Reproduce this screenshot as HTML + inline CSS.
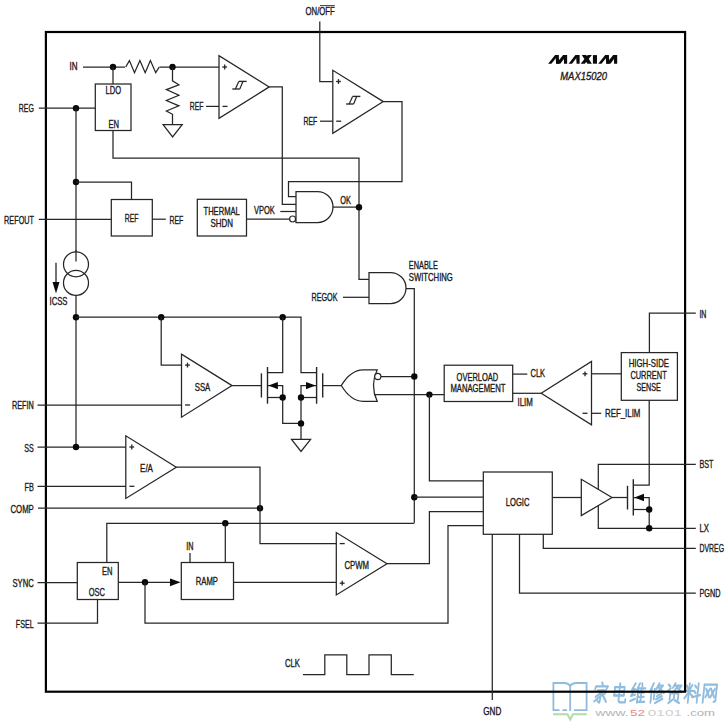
<!DOCTYPE html>
<html><head><meta charset="utf-8"><title>MAX15020 Block Diagram</title>
<style>html,body{margin:0;padding:0;background:#fff;}svg{display:block;}</style>
</head><body>
<svg width="725" height="724" viewBox="0 0 725 724" font-family="Liberation Sans, sans-serif">
<rect width="725" height="724" fill="#fff"/>
<g id="wm">
<path d="M559.5 710.2 L553.4 710.2 L553.4 683 L565 683 Q569 683.6 570.2 686.2 Q571.4 683.6 575.4 683 L586.6 683 L586.6 710.2 L574 710.2 M567 710.2 L562.5 710.2 M570.2 686.2 L570.2 711" fill="none" stroke="#8fbbdc" stroke-width="1.8"/>
<path d="M553 714.2 L567.5 714.2 L570.2 719.5 L572.9 714.2 L586.8 714.2" fill="none" stroke="#b4dba6" stroke-width="2"/>
<g transform="translate(592.6 682.5) scale(0.165 0.21) skewX(-8) translate(8 0)" fill="none" stroke="#84b5da" stroke-width="11" stroke-linecap="round" stroke-linejoin="round" opacity="0.9">
<path d="M50 0 L56 12"/>
<path d="M12 32 L15 18 L88 18 L80 32"/>
<path d="M28 38 L72 38"/>
<path d="M56 38 C44 55 52 80 46 96 L34 88"/>
<path d="M48 50 L20 68"/>
<path d="M50 63 L14 90"/>
<path d="M58 55 L86 92"/>
<path d="M82 44 L62 62"/>
</g>
<g transform="translate(611 682.5) scale(0.165 0.21) skewX(-8) translate(8 0)" fill="none" stroke="#84b5da" stroke-width="11" stroke-linecap="round" stroke-linejoin="round" opacity="0.9">
<path d="M20 22 L20 62"/>
<path d="M20 22 L78 22 L78 62"/>
<path d="M20 42 L78 42"/>
<path d="M20 62 L78 62"/>
<path d="M49 4 L49 84 Q50 95 68 95 L90 95 L90 80"/>
</g>
<g transform="translate(629.5 682.5) scale(0.165 0.21) skewX(-8) translate(8 0)" fill="none" stroke="#84b5da" stroke-width="11" stroke-linecap="round" stroke-linejoin="round" opacity="0.9">
<path d="M30 4 L12 34 L30 32 L10 64 L34 58"/>
<path d="M8 88 L36 78"/>
<path d="M56 4 L42 36"/>
<path d="M50 26 L50 96"/>
<path d="M70 4 L73 18"/>
<path d="M50 28 L92 28"/>
<path d="M50 48 L88 48"/>
<path d="M50 68 L88 68"/>
<path d="M50 92 L95 92"/>
<path d="M70 28 L70 92"/>
</g>
<g transform="translate(648 682.5) scale(0.165 0.21) skewX(-8) translate(8 0)" fill="none" stroke="#84b5da" stroke-width="11" stroke-linecap="round" stroke-linejoin="round" opacity="0.9">
<path d="M28 4 L8 46"/>
<path d="M20 30 L20 96"/>
<path d="M38 30 L38 80"/>
<path d="M62 4 L48 30"/>
<path d="M58 15 L85 15 L55 50"/>
<path d="M62 25 L95 50"/>
<path d="M80 52 L55 65"/>
<path d="M85 65 L52 80"/>
<path d="M90 78 L48 98"/>
</g>
<g transform="translate(666 682.5) scale(0.165 0.21) skewX(-8) translate(8 0)" fill="none" stroke="#84b5da" stroke-width="11" stroke-linecap="round" stroke-linejoin="round" opacity="0.9">
<path d="M10 10 L22 20"/>
<path d="M8 40 L25 28"/>
<path d="M50 4 L38 25"/>
<path d="M45 15 L88 15 L80 25"/>
<path d="M65 18 L45 45"/>
<path d="M65 25 L90 45"/>
<path d="M25 52 L25 82"/>
<path d="M25 52 L75 52 L75 82"/>
<path d="M50 60 L50 78 L20 98"/>
<path d="M58 85 L85 98"/>
</g>
<g transform="translate(684 682.5) scale(0.165 0.21) skewX(-8) translate(8 0)" fill="none" stroke="#84b5da" stroke-width="11" stroke-linecap="round" stroke-linejoin="round" opacity="0.9">
<path d="M12 15 L22 30"/>
<path d="M45 12 L35 30"/>
<path d="M5 40 L52 40"/>
<path d="M28 4 L28 96"/>
<path d="M28 45 L5 75"/>
<path d="M28 45 L50 65"/>
<path d="M62 15 L72 25"/>
<path d="M58 40 L70 50"/>
<path d="M52 70 L98 60"/>
<path d="M82 4 L82 96"/>
</g>
<g transform="translate(701.5 682.5) scale(0.165 0.21) skewX(-8) translate(8 0)" fill="none" stroke="#84b5da" stroke-width="11" stroke-linecap="round" stroke-linejoin="round" opacity="0.9">
<path d="M12 10 L12 96"/>
<path d="M12 10 L88 10 L88 88 L78 92"/>
<path d="M25 30 L48 70"/>
<path d="M48 30 L25 70"/>
<path d="M55 30 L78 70"/>
<path d="M78 30 L55 70"/>
</g>
<text x="595.5" y="715.7" font-size="9" textLength="33" lengthAdjust="spacingAndGlyphs" fill="#b4b4b4">www.</text>
<text x="630" y="715.7" font-size="9" textLength="15" lengthAdjust="spacingAndGlyphs" fill="#e48b8b">52</text>
<text x="647.8" y="715.7" font-size="9" textLength="34.2" lengthAdjust="spacingAndGlyphs" fill="#cfcfcf">0101</text>
<text x="686.5" y="715.7" font-size="9" textLength="28.5" lengthAdjust="spacingAndGlyphs" fill="#b0b0b0">.com</text>
</g>
<rect x="45.9" y="32" width="639.2" height="659.7" fill="none" stroke="#000" stroke-width="2.2"/>
<text x="69.5" y="70" font-size="10.5" textLength="8" lengthAdjust="spacingAndGlyphs" fill="#1a1a1a" stroke="#1a1a1a" stroke-width="0.35" >IN</text>
<path d="M83 67 L125 67" fill="none" stroke="#262626" stroke-width="1.25" />
<path d="M125.7 67 L129.4 60.6 L134.5 72.7 L139.9 60.6 L145.2 72.7 L150.4 60.6 L155.7 72.7 L159.2 67" fill="none" stroke="#262626" stroke-width="1.25" stroke-linejoin="miter"/>
<path d="M159.5 67 L219 67" fill="none" stroke="#262626" stroke-width="1.25" />
<circle cx="113" cy="67" r="3.2" fill="#0a0a0a"/>
<circle cx="172.5" cy="67" r="3.2" fill="#0a0a0a"/>
<path d="M113 67 L113 84" fill="none" stroke="#262626" stroke-width="1.25" />
<rect x="95.3" y="84" width="35.7" height="46.5" fill="none" stroke="#262626" stroke-width="1.25"/>
<text x="105.5" y="93.8" font-size="10.5" textLength="15.5" lengthAdjust="spacingAndGlyphs" fill="#1a1a1a" stroke="#1a1a1a" stroke-width="0.35" >LDO</text>
<text x="108.5" y="128" font-size="10.5" textLength="10.5" lengthAdjust="spacingAndGlyphs" fill="#1a1a1a" stroke="#1a1a1a" stroke-width="0.35" >EN</text>
<path d="M172.5 67 L172.5 80.8 L178.9 84.8 L166.4 89.6 L178.9 95.3 L166.4 100.5 L178.9 105.8 L166.4 111 L172.5 114.3 L172.5 124.6" fill="none" stroke="#262626" stroke-width="1.25" stroke-linejoin="miter"/>
<path d="M163.1 124.7 L182.2 124.7 L172.6 137 Z" fill="none" stroke="#262626" stroke-width="1.25" stroke-linejoin="miter"/>
<text x="18.8" y="111.8" font-size="10.5" textLength="15" lengthAdjust="spacingAndGlyphs" fill="#1a1a1a" stroke="#1a1a1a" stroke-width="0.35" >REG</text>
<path d="M38.8 108.2 L95.3 108.2" fill="none" stroke="#262626" stroke-width="1.25" />
<circle cx="76" cy="108.2" r="3.2" fill="#0a0a0a"/>
<path d="M76 108.2 L76 252" fill="none" stroke="#262626" stroke-width="1.25" />
<path d="M113 130.5 L113 158 L359 158 L359 279.3 L369 279.3" fill="none" stroke="#262626" stroke-width="1.25" />
<path d="M219 55.6 L219 118.3 L269.2 86.9 Z" fill="none" stroke="#262626" stroke-width="1.25" stroke-linejoin="miter"/>
<path d="M222.3 67 L227.1 67" fill="none" stroke="#262626" stroke-width="1.3" />
<path d="M224.7 64.6 L224.7 69.4" fill="none" stroke="#262626" stroke-width="1.3" />
<path d="M222.5 106.4 L227.5 106.4" fill="none" stroke="#262626" stroke-width="1.3" />
<text x="189.8" y="110" font-size="10.5" textLength="13.7" lengthAdjust="spacingAndGlyphs" fill="#1a1a1a" stroke="#1a1a1a" stroke-width="0.35" >REF</text>
<path d="M206 106.4 L219 106.4" fill="none" stroke="#262626" stroke-width="1.25" />
<path d="M232.3 89 L239.8 89" fill="none" stroke="#262626" stroke-width="1.35" />
<path d="M238.8 81.4 L246.6 81.4" fill="none" stroke="#262626" stroke-width="1.35" />
<path d="M235.4 89 L238.8 81.4" fill="none" stroke="#262626" stroke-width="1.2" />
<path d="M239.8 89 L242.9 81.4" fill="none" stroke="#262626" stroke-width="1.2" />
<path d="M269.2 86.9 L282.3 86.9 L282.3 204.3 L296 204.3" fill="none" stroke="#262626" stroke-width="1.25" />
<text x="305.5" y="15" font-size="10.5" textLength="29.3" lengthAdjust="spacingAndGlyphs" fill="#1a1a1a" stroke="#1a1a1a" stroke-width="0.35" >ON/OFF</text>
<path d="M320 5.6 L334.8 5.6" fill="none" stroke="#262626" stroke-width="0.9" />
<path d="M319.8 21.5 L319.8 81.5 L332.8 81.5" fill="none" stroke="#262626" stroke-width="1.25" />
<path d="M332.8 70.3 L332.8 133.4 L383.3 101.6 Z" fill="none" stroke="#262626" stroke-width="1.25" stroke-linejoin="miter"/>
<path d="M336.1 81.5 L340.9 81.5" fill="none" stroke="#262626" stroke-width="1.3" />
<path d="M338.5 79.1 L338.5 83.9" fill="none" stroke="#262626" stroke-width="1.3" />
<path d="M336.2 121.2 L341.2 121.2" fill="none" stroke="#262626" stroke-width="1.3" />
<text x="303.5" y="125" font-size="10.5" textLength="13.8" lengthAdjust="spacingAndGlyphs" fill="#1a1a1a" stroke="#1a1a1a" stroke-width="0.35" >REF</text>
<path d="M320 121.2 L332.8 121.2" fill="none" stroke="#262626" stroke-width="1.25" />
<path d="M346.1 104 L353.6 104" fill="none" stroke="#262626" stroke-width="1.35" />
<path d="M352.6 96.4 L360.4 96.4" fill="none" stroke="#262626" stroke-width="1.35" />
<path d="M349.2 104 L352.6 96.4" fill="none" stroke="#262626" stroke-width="1.2" />
<path d="M353.6 104 L356.7 96.4" fill="none" stroke="#262626" stroke-width="1.2" />
<path d="M383.3 101.6 L402 101.6 L402 181.6 L288.5 181.6 L288.5 196.5 L296 196.5" fill="none" stroke="#262626" stroke-width="1.25" />
<polygon points="548.10,63.70 551.40,63.70 558.40,55.10 555.10,55.10" fill="#0a0a0a"/>
<polygon points="555.50,55.10 558.80,55.10 559.10,63.70 556.10,63.70" fill="#0a0a0a"/>
<polygon points="556.10,63.70 560.30,63.70 567.00,55.10 563.10,55.10" fill="#0a0a0a"/>
<polygon points="563.80,55.10 567.10,55.10 567.10,63.70 564.00,63.70" fill="#0a0a0a"/>
<polygon points="568.60,63.70 572.00,63.70 578.80,55.10 575.40,55.10" fill="#0a0a0a"/>
<polygon points="576.00,55.10 579.60,55.10 579.60,63.70 576.60,63.70" fill="#0a0a0a"/>
<polygon points="580.60,63.70 584.80,63.70 591.90,55.10 587.80,55.10" fill="#0a0a0a"/>
<polygon points="581.80,55.10 586.20,55.10 591.90,63.70 587.40,63.70" fill="#0a0a0a"/>
<polygon points="592.90,55.10 597.00,55.10 597.00,63.70 592.90,63.70" fill="#0a0a0a"/>
<polygon points="598.20,63.70 601.50,63.70 608.50,55.10 605.20,55.10" fill="#0a0a0a"/>
<polygon points="605.60,55.10 608.90,55.10 609.20,63.70 606.20,63.70" fill="#0a0a0a"/>
<polygon points="606.20,63.70 610.40,63.70 617.10,55.10 613.20,55.10" fill="#0a0a0a"/>
<polygon points="613.90,55.10 617.20,55.10 617.20,63.70 614.10,63.70" fill="#0a0a0a"/>
<text x="560.2" y="79.8" font-size="11.5" textLength="46.8" lengthAdjust="spacingAndGlyphs" fill="#1a1a1a" stroke="#1a1a1a" stroke-width="0.35" font-style="italic">MAX15020</text>
<circle cx="76" cy="182" r="3.2" fill="#0a0a0a"/>
<path d="M76 182 L131.5 182 L131.5 199.5" fill="none" stroke="#262626" stroke-width="1.25" />
<rect x="111.3" y="199.5" width="41" height="36.5" fill="none" stroke="#262626" stroke-width="1.25"/>
<text x="124.8" y="221.8" font-size="10.5" textLength="13.7" lengthAdjust="spacingAndGlyphs" fill="#1a1a1a" stroke="#1a1a1a" stroke-width="0.35" >REF</text>
<text x="4.1" y="223.6" font-size="10.5" textLength="29.9" lengthAdjust="spacingAndGlyphs" fill="#1a1a1a" stroke="#1a1a1a" stroke-width="0.35" >REFOUT</text>
<path d="M38.8 219.4 L111.3 219.4" fill="none" stroke="#262626" stroke-width="1.25" />
<path d="M152.3 219.2 L165.8 219.2" fill="none" stroke="#262626" stroke-width="1.25" />
<text x="169.5" y="223.5" font-size="10.5" textLength="13.8" lengthAdjust="spacingAndGlyphs" fill="#1a1a1a" stroke="#1a1a1a" stroke-width="0.35" >REF</text>
<rect x="197.3" y="199.3" width="49.2" height="36.7" fill="none" stroke="#262626" stroke-width="1.25"/>
<text x="203.5" y="215" font-size="10.5" textLength="36.3" lengthAdjust="spacingAndGlyphs" fill="#1a1a1a" stroke="#1a1a1a" stroke-width="0.35" >THERMAL</text>
<text x="210.5" y="227" font-size="10.5" textLength="22.5" lengthAdjust="spacingAndGlyphs" fill="#1a1a1a" stroke="#1a1a1a" stroke-width="0.35" >SHDN</text>
<path d="M246.5 219 L289.5 219" fill="none" stroke="#262626" stroke-width="1.25" />
<circle cx="292.6" cy="219" r="3" fill="#fff" stroke="#262626" stroke-width="1.2"/>
<text x="254" y="214" font-size="10.5" textLength="20.8" lengthAdjust="spacingAndGlyphs" fill="#1a1a1a" stroke="#1a1a1a" stroke-width="0.35" >VPOK</text>
<path d="M280.3 211.5 L296 211.5" fill="none" stroke="#262626" stroke-width="1.25" />
<path d="M296 191.5 L317.5 191.5 A15.5 15.5 0 0 1 317.5 222.5 L296 222.5 Z" fill="#fff" stroke="#262626" stroke-width="1.25"/>
<text x="340.3" y="204" font-size="10.5" textLength="10.7" lengthAdjust="spacingAndGlyphs" fill="#1a1a1a" stroke="#1a1a1a" stroke-width="0.35" >OK</text>
<path d="M333 207.1 L359 207.1" fill="none" stroke="#262626" stroke-width="1.25" />
<circle cx="359" cy="207.2" r="3.2" fill="#0a0a0a"/>
<path d="M76 250 L76 261.5" fill="none" stroke="#262626" stroke-width="1.25" />
<circle cx="76" cy="264.3" r="12.5" fill="none" stroke="#262626" stroke-width="1.25"/>
<circle cx="76" cy="282.9" r="12.5" fill="none" stroke="#262626" stroke-width="1.25"/>
<path d="M76 295.4 L76 447" fill="none" stroke="#262626" stroke-width="1.25" />
<path d="M56 262.8 L56 284" fill="none" stroke="#262626" stroke-width="1.3" />
<polygon points="52.5,282 59.5,282 56,293.5" fill="#0a0a0a"/>
<text x="49.5" y="304.8" font-size="10.5" textLength="18" lengthAdjust="spacingAndGlyphs" fill="#1a1a1a" stroke="#1a1a1a" stroke-width="0.35" >ICSS</text>
<circle cx="76" cy="317.2" r="3.2" fill="#0a0a0a"/>
<path d="M76 317.2 L301 317.2 L301 372.6 L316.5 372.6" fill="none" stroke="#262626" stroke-width="1.25" />
<circle cx="161.2" cy="317.2" r="3.2" fill="#0a0a0a"/>
<circle cx="282.7" cy="317.2" r="3.2" fill="#0a0a0a"/>
<path d="M161.2 317.2 L161.2 365.1 L181.5 365.1" fill="none" stroke="#262626" stroke-width="1.25" />
<text x="311.5" y="301" font-size="10.5" textLength="26" lengthAdjust="spacingAndGlyphs" fill="#1a1a1a" stroke="#1a1a1a" stroke-width="0.35" >REGOK</text>
<path d="M343 297.3 L369 297.3" fill="none" stroke="#262626" stroke-width="1.25" />
<path d="M369 272.5 L390.5 272.5 A15.5 15.5 0 0 1 390.5 303.5 L369 303.5 Z" fill="#fff" stroke="#262626" stroke-width="1.25"/>
<path d="M406 288.5 L414.3 288.5 L414.3 522.8" fill="none" stroke="#262626" stroke-width="1.25" />
<text x="408.8" y="268.5" font-size="10.5" textLength="29" lengthAdjust="spacingAndGlyphs" fill="#1a1a1a" stroke="#1a1a1a" stroke-width="0.35" >ENABLE</text>
<text x="408.8" y="281" font-size="10.5" textLength="44" lengthAdjust="spacingAndGlyphs" fill="#1a1a1a" stroke="#1a1a1a" stroke-width="0.35" >SWITCHING</text>
<path d="M181.5 354.2 L181.5 417.2 L232 385.6 Z" fill="none" stroke="#262626" stroke-width="1.25" stroke-linejoin="miter"/>
<path d="M185.1 365.1 L189.9 365.1" fill="none" stroke="#262626" stroke-width="1.3" />
<path d="M187.5 362.7 L187.5 367.5" fill="none" stroke="#262626" stroke-width="1.3" />
<path d="M185.1 405 L190.1 405" fill="none" stroke="#262626" stroke-width="1.3" />
<text x="194.7" y="391" font-size="10.5" textLength="15.6" lengthAdjust="spacingAndGlyphs" fill="#1a1a1a" stroke="#1a1a1a" stroke-width="0.35" >SSA</text>
<text x="12" y="409" font-size="10.5" textLength="21.8" lengthAdjust="spacingAndGlyphs" fill="#1a1a1a" stroke="#1a1a1a" stroke-width="0.35" >REFIN</text>
<path d="M37.5 405 L181.5 405" fill="none" stroke="#262626" stroke-width="1.25" />
<path d="M232 385.6 L261.4 385.6" fill="none" stroke="#262626" stroke-width="1.25" />
<path d="M261.4 373.3 L261.4 397.5" fill="none" stroke="#262626" stroke-width="1.4" />
<path d="M267.5 367 L267.5 403.7" fill="none" stroke="#262626" stroke-width="1.4" />
<path d="M267.5 372.6 L282.7 372.6 L282.7 317.2" fill="none" stroke="#262626" stroke-width="1.25" />
<path d="M267.5 385.6 L282.7 385.6 L282.7 423.4 L301 423.4" fill="none" stroke="#262626" stroke-width="1.25" />
<polygon points="268.4,385.6 277.9,382 277.9,389.2" fill="#0a0a0a"/>
<path d="M267.5 397.5 L282.7 397.5" fill="none" stroke="#262626" stroke-width="1.25" />
<circle cx="282.7" cy="397.5" r="3.2" fill="#0a0a0a"/>
<path d="M322.7 373.3 L322.7 397.5" fill="none" stroke="#262626" stroke-width="1.4" />
<path d="M316.6 367 L316.6 403.7" fill="none" stroke="#262626" stroke-width="1.4" />
<path d="M316.6 385.6 L301 385.6 L301 439.3" fill="none" stroke="#262626" stroke-width="1.25" />
<polygon points="315.6,385.6 306,382 306,389.2" fill="#0a0a0a"/>
<path d="M316.6 397.5 L301 397.5" fill="none" stroke="#262626" stroke-width="1.25" />
<circle cx="301" cy="397.5" r="3.2" fill="#0a0a0a"/>
<circle cx="301" cy="423.4" r="3.2" fill="#0a0a0a"/>
<path d="M291.5 439.3 L310.6 439.3 L301 451.5 Z" fill="none" stroke="#262626" stroke-width="1.25" stroke-linejoin="miter"/>
<path d="M322.7 385.6 L341.3 385.6" fill="none" stroke="#262626" stroke-width="1.25" />
<path d="M341.3 385.5 C347 376 354 370 363 369.8 L377.2 369.8 C372.3 380 372.3 391 377.2 401.3 L363 401.3 C354 401 347 395 341.3 385.5 Z" fill="#fff" stroke="#262626" stroke-width="1.25"/>
<circle cx="377.8" cy="376.5" r="3.1" fill="#fff" stroke="#262626" stroke-width="1.2"/>
<path d="M381 376.5 L414.3 376.5" fill="none" stroke="#262626" stroke-width="1.25" />
<circle cx="414.3" cy="376.5" r="3.2" fill="#0a0a0a"/>
<path d="M374.7 394.6 L444.2 394.6" fill="none" stroke="#262626" stroke-width="1.25" />
<circle cx="429.4" cy="394.6" r="3.2" fill="#0a0a0a"/>
<path d="M429.4 394.6 L429.4 480.8 L483.3 480.8" fill="none" stroke="#262626" stroke-width="1.25" />
<rect x="444.2" y="365.2" width="68.5" height="36.3" fill="none" stroke="#262626" stroke-width="1.25"/>
<text x="456.6" y="380.5" font-size="10.5" textLength="41.7" lengthAdjust="spacingAndGlyphs" fill="#1a1a1a" stroke="#1a1a1a" stroke-width="0.35" >OVERLOAD</text>
<text x="450.4" y="392" font-size="10.5" textLength="55.1" lengthAdjust="spacingAndGlyphs" fill="#1a1a1a" stroke="#1a1a1a" stroke-width="0.35" >MANAGEMENT</text>
<path d="M512.7 374.1 L527.3 374.1" fill="none" stroke="#262626" stroke-width="1.25" />
<text x="530.5" y="377.4" font-size="10.5" textLength="14.6" lengthAdjust="spacingAndGlyphs" fill="#1a1a1a" stroke="#1a1a1a" stroke-width="0.35" >CLK</text>
<path d="M512.7 393.3 L541.2 393.3" fill="none" stroke="#262626" stroke-width="1.25" />
<text x="517.5" y="405.5" font-size="10.5" textLength="15.3" lengthAdjust="spacingAndGlyphs" fill="#1a1a1a" stroke="#1a1a1a" stroke-width="0.35" >ILIM</text>
<path d="M591.5 361.5 L591.5 424.8 L541.2 393.3 Z" fill="none" stroke="#262626" stroke-width="1.25" stroke-linejoin="miter"/>
<path d="M582.6 373.8 L587.4 373.8" fill="none" stroke="#262626" stroke-width="1.3" />
<path d="M585 371.4 L585 376.2" fill="none" stroke="#262626" stroke-width="1.3" />
<path d="M582.5 413.3 L587.5 413.3" fill="none" stroke="#262626" stroke-width="1.3" />
<path d="M591.5 373.8 L621.3 373.8" fill="none" stroke="#262626" stroke-width="1.25" />
<path d="M591.5 413.3 L601.2 413.3" fill="none" stroke="#262626" stroke-width="1.25" />
<text x="605" y="416.9" font-size="10.5" textLength="35.4" lengthAdjust="spacingAndGlyphs" fill="#1a1a1a" stroke="#1a1a1a" stroke-width="0.35" >REF_ILIM</text>
<rect x="621.3" y="352.6" width="56.1" height="47.7" fill="none" stroke="#262626" stroke-width="1.25"/>
<text x="628.7" y="367.3" font-size="10.5" textLength="40.3" lengthAdjust="spacingAndGlyphs" fill="#1a1a1a" stroke="#1a1a1a" stroke-width="0.35" >HIGH-SIDE</text>
<text x="630.4" y="379.3" font-size="10.5" textLength="36.3" lengthAdjust="spacingAndGlyphs" fill="#1a1a1a" stroke="#1a1a1a" stroke-width="0.35" >CURRENT</text>
<text x="636.5" y="390.6" font-size="10.5" textLength="24.3" lengthAdjust="spacingAndGlyphs" fill="#1a1a1a" stroke="#1a1a1a" stroke-width="0.35" >SENSE</text>
<path d="M695.8 313 L649.4 313 L649.4 352.6" fill="none" stroke="#262626" stroke-width="1.25" />
<text x="699.4" y="317.5" font-size="10.5" textLength="7" lengthAdjust="spacingAndGlyphs" fill="#1a1a1a" stroke="#1a1a1a" stroke-width="0.35" >IN</text>
<path d="M649.2 400.3 L649.2 485 L633.3 485" fill="none" stroke="#262626" stroke-width="1.25" />
<text x="24.3" y="451.5" font-size="10.5" textLength="9.5" lengthAdjust="spacingAndGlyphs" fill="#1a1a1a" stroke="#1a1a1a" stroke-width="0.35" >SS</text>
<path d="M37.5 447 L125.8 447" fill="none" stroke="#262626" stroke-width="1.25" />
<circle cx="76" cy="447" r="3.2" fill="#0a0a0a"/>
<path d="M125.8 435.8 L125.8 498.5 L176.3 467.2 Z" fill="none" stroke="#262626" stroke-width="1.25" stroke-linejoin="miter"/>
<path d="M129.4 447 L134.2 447" fill="none" stroke="#262626" stroke-width="1.3" />
<path d="M131.8 444.6 L131.8 449.4" fill="none" stroke="#262626" stroke-width="1.3" />
<path d="M129.4 486.3 L134.4 486.3" fill="none" stroke="#262626" stroke-width="1.3" />
<text x="140" y="472" font-size="10.5" textLength="13" lengthAdjust="spacingAndGlyphs" fill="#1a1a1a" stroke="#1a1a1a" stroke-width="0.35" >E/A</text>
<text x="24.5" y="490.5" font-size="10.5" textLength="9.3" lengthAdjust="spacingAndGlyphs" fill="#1a1a1a" stroke="#1a1a1a" stroke-width="0.35" >FB</text>
<path d="M37.5 486.3 L125.8 486.3" fill="none" stroke="#262626" stroke-width="1.25" />
<text x="10.5" y="512.5" font-size="10.5" textLength="23.3" lengthAdjust="spacingAndGlyphs" fill="#1a1a1a" stroke="#1a1a1a" stroke-width="0.35" >COMP</text>
<path d="M38 508.2 L260 508.2" fill="none" stroke="#262626" stroke-width="1.25" />
<circle cx="260" cy="508.2" r="3.2" fill="#0a0a0a"/>
<path d="M176.3 467.2 L260 467.2 L260 543.6 L336.3 543.6" fill="none" stroke="#262626" stroke-width="1.25" />
<path d="M414.3 523.3 L106.8 523.3 L106.8 562.5" fill="none" stroke="#262626" stroke-width="1.25" />
<circle cx="225.3" cy="523.3" r="3.2" fill="#0a0a0a"/>
<path d="M225.3 523.3 L225.3 562.5" fill="none" stroke="#262626" stroke-width="1.25" />
<circle cx="414.3" cy="497.2" r="3.2" fill="#0a0a0a"/>
<path d="M414.3 497.2 L483.3 497.2" fill="none" stroke="#262626" stroke-width="1.25" />
<rect x="77.3" y="562.5" width="41" height="37" fill="none" stroke="#262626" stroke-width="1.25"/>
<text x="102" y="575" font-size="10.5" textLength="10.5" lengthAdjust="spacingAndGlyphs" fill="#1a1a1a" stroke="#1a1a1a" stroke-width="0.35" >EN</text>
<text x="88.8" y="596.3" font-size="10.5" textLength="16.2" lengthAdjust="spacingAndGlyphs" fill="#1a1a1a" stroke="#1a1a1a" stroke-width="0.35" >OSC</text>
<text x="12.5" y="586.8" font-size="10.5" textLength="21.3" lengthAdjust="spacingAndGlyphs" fill="#1a1a1a" stroke="#1a1a1a" stroke-width="0.35" >SYNC</text>
<path d="M37.5 582.7 L77.3 582.7" fill="none" stroke="#262626" stroke-width="1.25" />
<text x="15.8" y="627.5" font-size="10.5" textLength="18" lengthAdjust="spacingAndGlyphs" fill="#1a1a1a" stroke="#1a1a1a" stroke-width="0.35" >FSEL</text>
<path d="M37.5 623 L97.5 623 L97.5 599.5" fill="none" stroke="#262626" stroke-width="1.25" />
<path d="M118.3 582.3 L172 582.3" fill="none" stroke="#262626" stroke-width="1.25" />
<circle cx="145" cy="582.3" r="3.2" fill="#0a0a0a"/>
<polygon points="170,578.4 170,586.2 180.6,582.3" fill="#0a0a0a"/>
<path d="M145 582.3 L145 623 L448 623 L448 525.6 L483.3 525.6" fill="none" stroke="#262626" stroke-width="1.25" />
<rect x="181.3" y="562.5" width="52.2" height="37" fill="none" stroke="#262626" stroke-width="1.25"/>
<text x="195.8" y="585" font-size="10.5" textLength="22.2" lengthAdjust="spacingAndGlyphs" fill="#1a1a1a" stroke="#1a1a1a" stroke-width="0.35" >RAMP</text>
<text x="186.3" y="550" font-size="10.5" textLength="7.2" lengthAdjust="spacingAndGlyphs" fill="#1a1a1a" stroke="#1a1a1a" stroke-width="0.35" >IN</text>
<path d="M190 553 L190 562.5" fill="none" stroke="#262626" stroke-width="1.25" />
<path d="M233.5 582.3 L336.3 582.3" fill="none" stroke="#262626" stroke-width="1.25" />
<path d="M336.3 532.5 L336.3 595 L387 563.7 Z" fill="none" stroke="#262626" stroke-width="1.25" stroke-linejoin="miter"/>
<path d="M339.7 543.6 L344.7 543.6" fill="none" stroke="#262626" stroke-width="1.3" />
<path d="M339.8 583.2 L344.6 583.2" fill="none" stroke="#262626" stroke-width="1.3" />
<path d="M342.2 580.8 L342.2 585.6" fill="none" stroke="#262626" stroke-width="1.3" />
<text x="344.5" y="568.8" font-size="10.5" textLength="24.5" lengthAdjust="spacingAndGlyphs" fill="#1a1a1a" stroke="#1a1a1a" stroke-width="0.35" >CPWM</text>
<path d="M387 563.7 L429.4 563.7 L429.4 511.6 L483.3 511.6" fill="none" stroke="#262626" stroke-width="1.25" />
<rect x="483.3" y="472" width="69" height="62.3" fill="none" stroke="#262626" stroke-width="1.25"/>
<text x="505.8" y="505.8" font-size="10.5" textLength="23.7" lengthAdjust="spacingAndGlyphs" fill="#1a1a1a" stroke="#1a1a1a" stroke-width="0.35" >LOGIC</text>
<path d="M552.3 497.5 L581.3 497.5" fill="none" stroke="#262626" stroke-width="1.25" />
<path d="M492.3 534.3 L492.3 700" fill="none" stroke="#262626" stroke-width="1.25" />
<text x="483.2" y="714.8" font-size="10.5" textLength="18.1" lengthAdjust="spacingAndGlyphs" fill="#1a1a1a" stroke="#1a1a1a" stroke-width="0.35" >GND</text>
<path d="M519.5 534.3 L519.5 593 L695.8 593" fill="none" stroke="#262626" stroke-width="1.25" />
<text x="699.5" y="596.8" font-size="10.5" textLength="21" lengthAdjust="spacingAndGlyphs" fill="#1a1a1a" stroke="#1a1a1a" stroke-width="0.35" >PGND</text>
<path d="M543.3 534.3 L543.3 548.3 L695.8 548.3" fill="none" stroke="#262626" stroke-width="1.25" />
<text x="699.5" y="551.8" font-size="10.5" textLength="24.5" lengthAdjust="spacingAndGlyphs" fill="#1a1a1a" stroke="#1a1a1a" stroke-width="0.35" >DVREG</text>
<path d="M581.3 479.3 L581.3 515.6 L612 497.5 Z" fill="none" stroke="#262626" stroke-width="1.25" stroke-linejoin="miter"/>
<path d="M598.3 489.4 L598.3 464.3 L695.8 464.3" fill="none" stroke="#262626" stroke-width="1.25" />
<text x="699.5" y="467.6" font-size="10.5" textLength="14" lengthAdjust="spacingAndGlyphs" fill="#1a1a1a" stroke="#1a1a1a" stroke-width="0.35" >BST</text>
<path d="M598.3 505.6 L598.3 528.3 L695.8 528.3" fill="none" stroke="#262626" stroke-width="1.25" />
<text x="699.5" y="531.6" font-size="10.5" textLength="9.5" lengthAdjust="spacingAndGlyphs" fill="#1a1a1a" stroke="#1a1a1a" stroke-width="0.35" >LX</text>
<path d="M612 497.5 L627.5 497.5" fill="none" stroke="#262626" stroke-width="1.25" />
<path d="M627.5 485.8 L627.5 509.5" fill="none" stroke="#262626" stroke-width="1.4" />
<path d="M633.3 479.3 L633.3 515.6" fill="none" stroke="#262626" stroke-width="1.4" />
<path d="M633.3 497.5 L649.2 497.5 L649.2 528.3" fill="none" stroke="#262626" stroke-width="1.25" />
<polygon points="634.3,497.5 644,493.8 644,501.2" fill="#0a0a0a"/>
<path d="M633.3 509.5 L649.2 509.5" fill="none" stroke="#262626" stroke-width="1.25" />
<circle cx="649.2" cy="509.5" r="3.2" fill="#0a0a0a"/>
<circle cx="649.2" cy="528.3" r="3.2" fill="#0a0a0a"/>
<text x="285" y="667" font-size="10.5" textLength="15" lengthAdjust="spacingAndGlyphs" fill="#1a1a1a" stroke="#1a1a1a" stroke-width="0.35" >CLK</text>
<path d="M303 674.5 L324.8 674.5 L324.8 654.8 L346.8 654.8 L346.8 674.5 L369 674.5 L369 654.8 L391.3 654.8 L391.3 674.5 L413.8 674.5" fill="none" stroke="#262626" stroke-width="1.25" />
</svg>
</body></html>
